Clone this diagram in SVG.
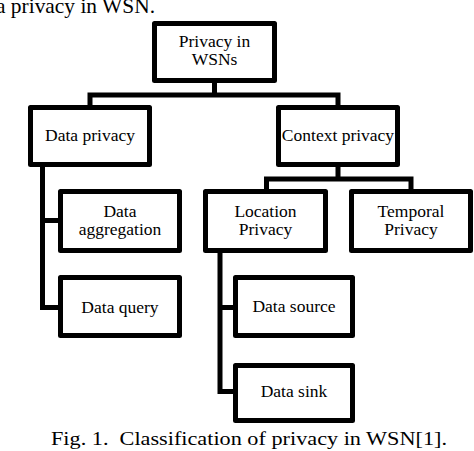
<svg xmlns="http://www.w3.org/2000/svg" width="474" height="451" viewBox="0 0 474 451">
<style>
  .box { fill: #fff; stroke: #000; stroke-width: 5; stroke-linejoin: round; }
  .conn { fill: none; stroke: #000; stroke-width: 5; stroke-linejoin: miter; stroke-linecap: butt; }
  .lbl { font-family: "Liberation Serif", "Times New Roman", serif; font-size: 17.5px; fill: #000; text-anchor: middle; }
  .cap { font-family: "Liberation Serif", "Times New Roman", serif; fill: #000; }
</style>
<rect width="474" height="451" fill="#fff"/>
<text class="cap" x="-4" y="13" font-size="21" textLength="159" lengthAdjust="spacingAndGlyphs">a privacy in WSN.</text>
<g id="connectors">
  <path class="conn" d="M214.5 82 V95 M87.5 95 H340.5 M90 95 V106 M338 95 V106"/>
  <path class="conn" d="M338 166 V179 M264 179 H413.5 M266.5 179 V190 M411 179 V190"/>
  <path class="conn" d="M42.5 166 V310 M40 220.5 H59 M40 307.5 H59"/>
  <path class="conn" d="M220 252 V394 M217.5 307.5 H234 M217.5 391.5 H234"/>
</g>
<g id="root">
  <rect class="box" x="154.5" y="23.5" width="120" height="57"/>
  <text class="lbl" x="214.5" y="47">Privacy in</text>
  <text class="lbl" x="214.5" y="65">WSNs</text>
</g>
<g id="data-privacy">
  <rect class="box" x="30.5" y="107.5" width="119" height="57"/>
  <text class="lbl" x="90" y="141">Data privacy</text>
</g>
<g id="context-privacy">
  <rect class="box" x="278.5" y="107.5" width="119" height="57"/>
  <text class="lbl" x="338" y="141">Context privacy</text>
</g>
<g id="data-aggregation">
  <rect class="box" x="60.5" y="191.5" width="119" height="59"/>
  <text class="lbl" x="120" y="217">Data</text>
  <text class="lbl" x="120" y="235">aggregation</text>
</g>
<g id="location-privacy">
  <rect class="box" x="205.5" y="191.5" width="120" height="59"/>
  <text class="lbl" x="265.5" y="217">Location</text>
  <text class="lbl" x="265.5" y="235">Privacy</text>
</g>
<g id="temporal-privacy">
  <rect class="box" x="351.5" y="191.5" width="119" height="59"/>
  <text class="lbl" x="411" y="217">Temporal</text>
  <text class="lbl" x="411" y="235">Privacy</text>
</g>
<g id="data-query">
  <rect class="box" x="60.5" y="277.5" width="119" height="58"/>
  <text class="lbl" x="120" y="313">Data query</text>
</g>
<g id="data-source">
  <rect class="box" x="235.5" y="277.5" width="117" height="58"/>
  <text class="lbl" x="294" y="312">Data source</text>
</g>
<g id="data-sink">
  <rect class="box" x="235.5" y="365.5" width="117" height="55"/>
  <text class="lbl" x="294" y="397">Data sink</text>
</g>
<text class="cap" x="51" y="445" font-size="19.5" xml:space="preserve" textLength="396" lengthAdjust="spacingAndGlyphs">Fig. 1.  Classification of privacy in WSN[1].</text>
</svg>
